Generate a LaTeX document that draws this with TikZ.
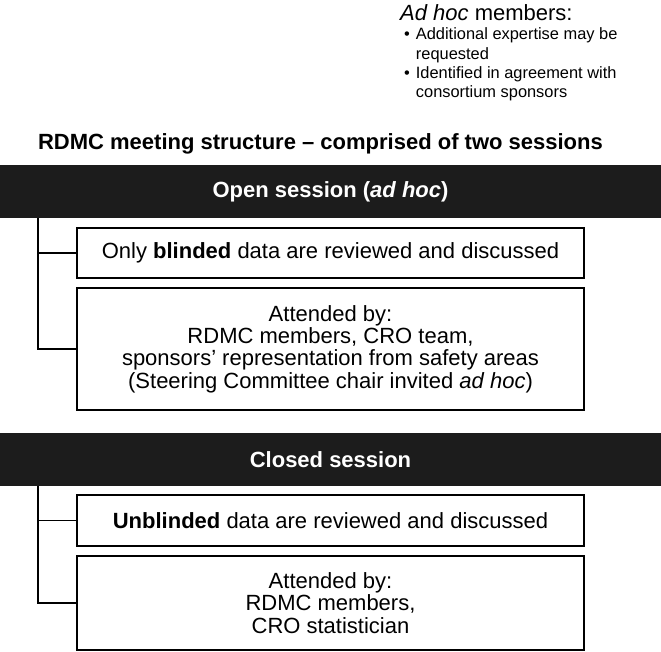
\documentclass[tikz,border=0pt]{standalone}
\usepackage{fontspec}
\setmainfont{Liberation Sans}
\usetikzlibrary{positioning,calc}
\definecolor{sessionblack}{rgb}{0.11,0.11,0.11}

\begin{document}
\begin{tikzpicture}[x=1pt, y=-1pt]
        \tikzstyle{bar}=[fill=sessionblack, text=white, minimum width=661pt, minimum height=53pt, inner sep=0pt, font=\fontsize{22}{22}\selectfont\bfseries]
        \tikzstyle{infobox}=[draw, line width=1.6pt, minimum width=507pt, inner sep=0pt, align=center, font=\fontsize{22}{22.4}\selectfont]
        \tikzstyle{link}=[line width=1.6pt]

        \useasboundingbox (0,0) rectangle (661,652);

        % Ad hoc members note
        \node[anchor=base west, inner sep=0pt, font=\fontsize{22}{22}\selectfont] (adhoc) at (400,21) {\textit{Ad hoc} members:};
        \node[anchor=base west, inner sep=0pt, font=\fontsize{16.4}{19.3}\selectfont] (adhocitems) at (404,40)
            {\begin{tabular}[t]{@{}l@{\hspace{6pt}}l@{}}
             \textbullet & Additional expertise may be\\
                         & requested\\
             \textbullet & Identified in agreement with\\
                         & consortium sponsors
             \end{tabular}};

        % Title
        \node[anchor=base, inner sep=0pt, font=\fontsize{22}{22}\selectfont\bfseries] (title) at (320.5,150)
            {RDMC meeting structure -- comprised of two sessions};

        % Open session
        \node[bar] (open) at (330.5,191.5) {Open session (\textit{ad hoc})};
        \node[infobox, minimum height=50pt] (blinded) at (330.5,253)
            {Only \textbf{blinded} data are reviewed and discussed};
        \node[infobox, minimum height=122pt] (openattend) at (330.5,349)
            {Attended by:\\RDMC members, CRO team,\\sponsors' representation from safety areas\\(Steering Committee chair invited \textit{ad hoc})};

        % Closed session
        \node[bar] (closed) at (330.5,459.5) {Closed session};
        \node[infobox, minimum height=51pt] (unblinded) at (330.5,520.5)
            {\textbf{Unblinded} data are reviewed and discussed};
        \node[infobox, minimum height=94pt] (closedattend) at (330.5,603)
            {Attended by:\\RDMC members,\\CRO statistician};

        % Connectors from the bars to the boxes
        \coordinate (openroot) at (open.south -| 38,0);
        \coordinate (closedroot) at (closed.south -| 38,0);
        \draw[link] (openroot) |- (blinded.west);
        \draw[link] (openroot) |- (openattend.west);
        \draw[link] (closedroot) |- (unblinded.west);
        \draw[link] (closedroot) |- (closedattend.west);
\end{tikzpicture}
\end{document}
